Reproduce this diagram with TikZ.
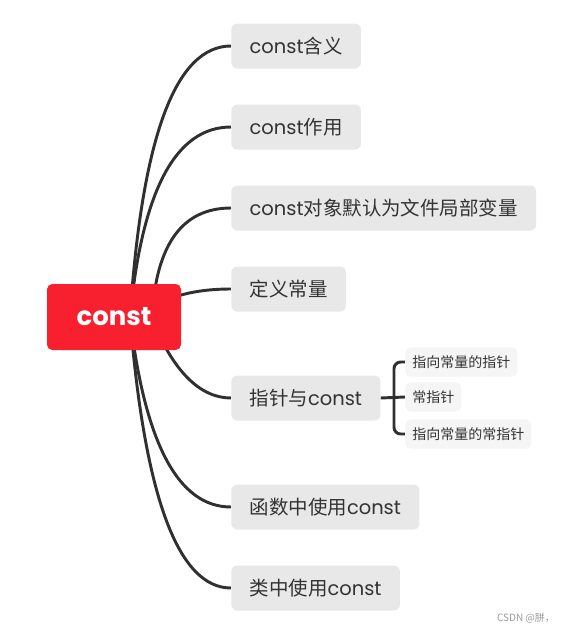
\documentclass[tikz,border=0pt]{standalone}
\usepackage{fontspec}
\setmainfont{Noto Sans CJK SC}
\newfontfamily\cjk{Noto Sans CJK SC}
\newfontfamily\lat{Poppins}
\usetikzlibrary{calc,backgrounds}
\definecolor{rootred}{HTML}{F81F2E}
\definecolor{boxgray}{HTML}{E8E8E8}
\definecolor{subgray}{HTML}{F5F5F5}
\definecolor{ink}{HTML}{333333}
\definecolor{linec}{HTML}{303030}
\definecolor{wmgray}{HTML}{9A9A9A}
\begin{document}
\begin{tikzpicture}[x=0.75pt,y=-0.75pt,
  childbox/.style={fill=boxgray, rounded corners=4.5pt, anchor=west, minimum height=33.75pt, inner xsep=13.8pt, inner ysep=0pt, text=ink, font=\fontsize{14.6}{17}\selectfont},
  subbox/.style={fill=subgray, rounded corners=4pt, anchor=west, minimum height=22pt, inner xsep=5.25pt, inner ysep=0pt, text=ink, font=\fontsize{10.5}{12}\selectfont},
  conn/.style={draw=linec, line width=2.2pt},
]
\useasboundingbox (0,0) rectangle (575,633);
\node[fill=rootred, rounded corners=4pt, minimum width=100.5pt, minimum height=49.5pt, inner sep=0pt, text=white, font=\lat\bfseries\fontsize{19.5}{22}\selectfont] (root) at (114,317) {const};
\node[childbox] (c1) at (231,46) {{\lat const}含义};
\node[childbox] (c2) at (231,127) {{\lat const}作用};
\node[childbox] (c3) at (231,208) {{\lat const}对象默认为文件局部变量};
\node[childbox] (c4) at (231,289) {定义常量};
\node[childbox] (c5) at (231,398) {指针与{\lat const}};
\node[childbox] (c6) at (231,507) {函数中使用{\lat const}};
\node[childbox] (c7) at (231,588) {类中使用{\lat const}};
\node[subbox] (s1) at (405,362) {指向常量的指针};
\node[subbox] (s2) at (405,397) {常指针};
\node[subbox] (s3) at (405,434) {指向常量的常指针};
\node[text=wmgray, font=\fontsize{7.5}{9}\selectfont] (wm) at (526,618) {CSDN @胼，};
\coordinate (bx) at (394,397);
\coordinate (a1) at (130,317); \coordinate (k1) at (148,46);
\coordinate (a2) at (130,317); \coordinate (k2) at (148,127);
\coordinate (a3) at (152,317); \coordinate (k3) at (158,208);
\coordinate (a4) at (140,317); \coordinate (k4) at (170,289);
\coordinate (a5) at (151,317); \coordinate (k5) at (184,398);
\coordinate (a6) at (130,317); \coordinate (k6) at (152,507);
\coordinate (a7) at (130,317); \coordinate (k7) at (152,588);
\begin{pgfonlayer}{background}
\foreach \i in {1,...,7}{
  \draw[conn] (a\i) .. controls ($(a\i)!2/3!(k\i)$) and ($(c\i.west)!2/3!(k\i)$) .. (c\i.west);
}
\draw[conn] (c5.east) -- (s2.west);
\draw[conn, rounded corners=5pt] (s1.west) -| (bx) |- (s3.west);
\end{pgfonlayer}
\end{tikzpicture}
\end{document}
